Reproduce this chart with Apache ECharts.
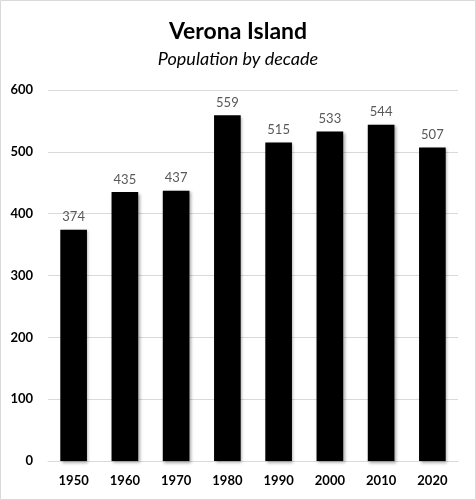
<!DOCTYPE html>
<html>
<head>
<meta charset="utf-8">
<script src="https://cdn.jsdelivr.net/npm/echarts@6/dist/echarts.min.js"></script>
<style>
  html, body { margin: 0; padding: 0; background: #fff; }
  #chart { width: 476px; height: 500px; }
</style>
</head>
<body>
<div id="chart"></div>
<script>
const decades = ['1950', '1960', '1970', '1980', '1990', '2000', '2010', '2020']
const population = [374, 435, 437, 559, 515, 533, 544, 507]
const yTicks = [0, 100, 200, 300, 400, 500, 600]

const FONT = 'Lato'
const chart = echarts.init(document.getElementById('chart'))

const option = {
    backgroundColor: '#fff',
    animation: false,
    graphic: [{
        type: 'rect',
        shape: { x: 0.5, y: 0.5, width: 475, height: 499 },
        style: { fill: 'none', stroke: '#d9d9d9', lineWidth: 1 },
        silent: true
    }],
    title: {
        text: 'Verona Island',
        subtext: 'Population by decade',
        left: 'center',
        top: 15,
        itemGap: 7,
        textStyle: { fontFamily: FONT, fontSize: 23, fontWeight: 'bold', color: '#000' },
        subtextStyle: { fontFamily: FONT, fontSize: 18, fontStyle: 'italic', color: '#000' }
    },
    grid: { left: 48, right: 18, top: 90, bottom: 39 },
    xAxis: {
        type: 'category',
        data: decades,
        axisLine: { lineStyle: { color: '#d9d9d9', width: 1 } },
        axisTick: { show: false },
        axisLabel: { fontFamily: FONT, fontSize: 13, fontWeight: 'bold', color: '#000', margin: 13 }
    },
    yAxis: {
        type: 'value',
        min: yTicks[0],
        max: yTicks[yTicks.length - 1],
        interval: 100,
        axisLine: { show: false },
        axisTick: { show: false },
        splitLine: { lineStyle: { color: '#d9d9d9', width: 1 } },
        axisLabel: { fontFamily: FONT, fontSize: 13, fontWeight: 'bold', color: '#000', margin: 15 }
    },
    series: [{
        type: 'bar',
        data: population,
        barCategoryGap: '48%',
        itemStyle: {
            color: '#000',
            shadowColor: 'rgba(0,0,0,0.35)',
            shadowBlur: 3,
            shadowOffsetX: 1.5,
            shadowOffsetY: 1.5
        },
        label: {
            show: true,
            position: 'top',
            distance: 6,
            fontFamily: FONT,
            fontSize: 13,
            color: '#595959'
        }
    }]
}
chart.setOption(option)
</script>
</body>
</html>
